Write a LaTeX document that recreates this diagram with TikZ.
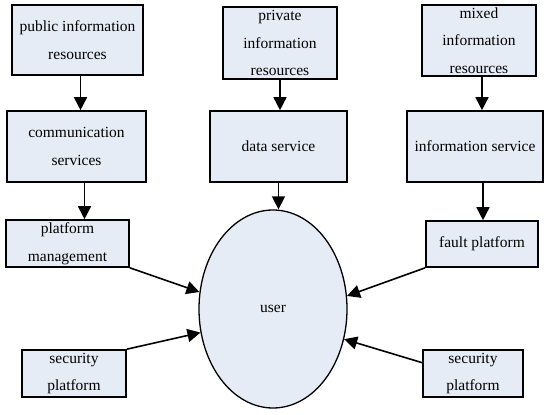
\documentclass[tikz,border=0pt]{standalone}
\usepackage{fontspec}
\setmainfont{Liberation Serif}
\usetikzlibrary{arrows.meta,shapes.geometric}
\definecolor{B}{HTML}{E6ECF6}
\tikzset{>={Triangle[length=13pt,width=13pt]}}
\tikzset{box/.style={shape=rectangle, draw, line width=1.6pt, fill=B, align=center,
    inner sep=0pt, font=\fontsize{15.5}{27.5}\selectfont}}

\begin{document}
\begin{tikzpicture}[x=1pt, y=-1pt]
    \useasboundingbox (0,0) rectangle (550,415);
    \node at (77.5, 40) (pub) [box, minimum width=131pt, minimum height=70pt] {public information\\resources};
    \node at (76.5, 146.5) (comm) [box, minimum width=139pt, minimum height=71pt] {communication\\services};
    \node at (280, 43) (priv) [box, minimum width=114pt, minimum height=72pt] {private\\information\\resources};
    \node at (278.5, 146.5) (data) [box, minimum width=137pt, minimum height=71pt] {data service};
    \node at (479, 40.5) (mixed) [box, minimum width=114pt, minimum height=71pt] {mixed\\information\\resources};
    \node at (475, 146.5) (info) [box, minimum width=136pt, minimum height=71pt] {information service};
    \node at (67.5, 243.5) (pm) [box, minimum width=123pt, minimum height=47pt] {platform\\management};
    \node at (74, 373.5) (secl) [box, minimum width=104pt, minimum height=47pt] {security\\platform};
    \node at (482, 244) (fault) [box, minimum width=112pt, minimum height=46pt] {fault platform};
    \node at (473, 373.5) (secr) [box, minimum width=100pt, minimum height=47pt] {security\\platform};
    \node at (273, 309) (user) [shape=ellipse, draw, line width=1.3pt, fill=B, inner sep=0pt,
        minimum width=148pt, minimum height=198pt, font=\fontsize{15.5}{27.5}\selectfont] {user};

    \path[->, draw, line width=1.6pt] ([xshift=3pt]pub.south) -- ([xshift=3pt]pub.south |- comm.north);
    \path[->, draw, line width=1.6pt] ([xshift=8pt]comm.south) -- ([xshift=8pt]comm.south |- pm.north);
    \path[->, draw, line width=1.6pt] (priv.south) -- (priv.south |- data.north);
    \path[->, draw, line width=1.6pt] (data.south) -- (data.south |- user.north);
    \path[->, draw, line width=1.6pt] ([xshift=3pt]mixed.south) -- ([xshift=3pt]mixed.south |- info.north);
    \path[->, draw, line width=1.6pt] ([xshift=8pt]info.south) -- ([xshift=8pt]info.south |- fault.north);

    \path[->, draw, line width=1.6pt] (pm.south east) -- (user.167);
    \path[->, draw, line width=1.6pt] (secl.north east) -- (user.198);
    \path[->, draw, line width=1.6pt] (fault.south west) -- (user.10);
    \path[->, draw, line width=1.6pt] (secr.168) -- (user.337);
\end{tikzpicture}
\end{document}
